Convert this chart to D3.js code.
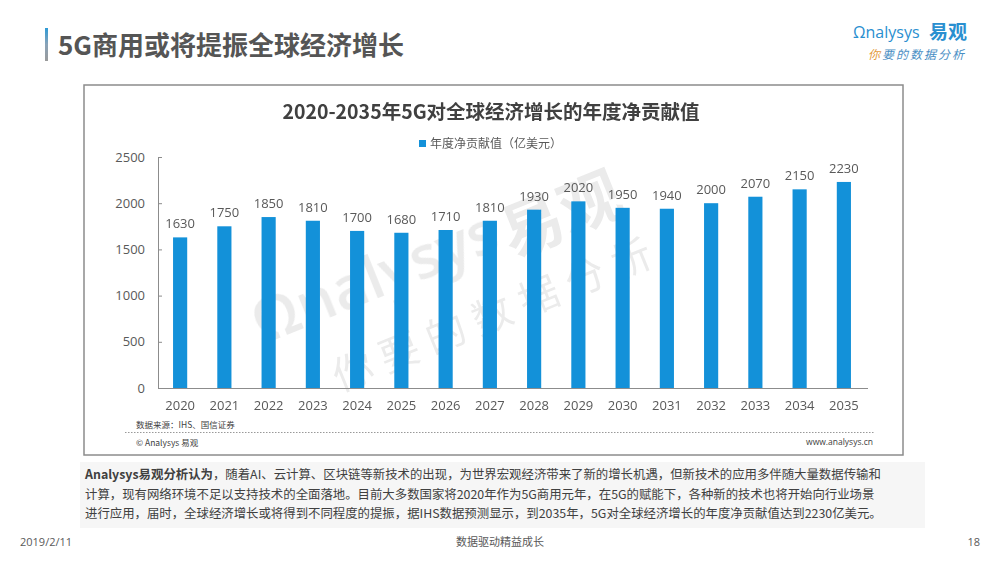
<!DOCTYPE html>
<html>
<head>
<meta charset="utf-8">
<script src="https://cdn.jsdelivr.net/npm/d3@7"></script>
<style>
  body { margin: 0; background: #fff; }
  svg { display: block; font-family: "Open Sans", "Noto Sans CJK SC", sans-serif; }
</style>
</head>
<body>
<svg id="slide" width="1000" height="563"></svg>
<script>
// chart data
const years = ["2020", "2021", "2022", "2023", "2024", "2025", "2026", "2027",
  "2028", "2029", "2030", "2031", "2032", "2033", "2034", "2035"];
const netContribution = [1630, 1750, 1850, 1810, 1700, 1680, 1710, 1810,
  1930, 2020, 1950, 1940, 2000, 2070, 2150, 2230];
const yTicks = [0, 500, 1000, 1500, 2000, 2500];

const seriesName = "年度净贡献值（亿美元）";
const chartTitle = "2020-2035年5G对全球经济增长的年度净贡献值";
const pageTitle = "5G商用或将提振全球经济增长";
const summaryLines = [
  ["Analysys易观分析认为", "，随着AI、云计算、区块链等新技术的出现，为世界宏观经济带来了新的增长机遇，但新技术的应用多伴随大量数据传输和"],
  ["", "计算，现有网络环境不足以支持技术的全面落地。目前大多数国家将2020年作为5G商用元年，在5G的赋能下，各种新的技术也将开始向行业场景"],
  ["", "进行应用，届时，全球经济增长或将得到不同程度的提振，据IHS数据预测显示，到2035年，5G对全球经济增长的年度净贡献值达到2230亿美元。"]
];

const svg = d3.select("#slide");
const cjk = "'Noto Sans CJK SC', sans-serif";
const textGray = "#595959";
const barBlue = "#1391d9";

// ---------- page header ----------
const hdr = d3.create("svg:linearGradient").attr("id", "hdrbar").attr("x1", 0).attr("x2", 0).attr("y1", 0).attr("y2", 1);
svg.append("defs").append(() => hdr.node());
hdr.append("stop").attr("offset", "0%").attr("stop-color", "#2d9ad6");
hdr.append("stop").attr("offset", "50%").attr("stop-color", "#8aa3b8");
hdr.append("stop").attr("offset", "100%").attr("stop-color", "#9a9a9a");

svg.append("rect").attr("x", 45).attr("y", 28).attr("width", 3).attr("height", 33).attr("fill", "url(#hdrbar)");
svg.append("text").attr("x", 58).attr("y", 55)
  .style("font-family", cjk).style("font-weight", 700).style("font-size", "26px")
  .attr("fill", "#555").text(pageTitle);

// logo (text only)
svg.append("text").attr("x", 853).attr("y", 38)
  .style("font-family", "'Open Sans', sans-serif").style("font-size", "16px")
  .attr("fill", "#2a8fd0").text("Ωnalysys");
svg.append("text").attr("x", 929).attr("y", 39)
  .style("font-family", cjk).style("font-weight", 700).style("font-size", "19px")
  .attr("fill", "#2a8fd0").text("易观");
const tag = svg.append("text").attr("x", 868).attr("y", 59)
  .style("font-family", cjk).style("font-size", "12px").style("font-style", "italic")
  .attr("letter-spacing", "2px");
tag.append("tspan").attr("fill", "#e39a3c").text("你");
tag.append("tspan").attr("fill", "#4a8ec4").text("要的数据分析");

// ---------- chart frame ----------
svg.append("rect").attr("x", 84).attr("y", 85).attr("width", 819).attr("height", 370)
  .attr("fill", "#fff").attr("stroke", "#8c8c8c").attr("stroke-width", 1.5);

// watermark
const wm = svg.append("g").attr("opacity", 0.12).attr("fill", "#555");
wm.append("text").attr("transform", "translate(262,345) rotate(-22)")
  .style("font-family", "'Open Sans', sans-serif").style("font-weight", 600).style("font-size", "60px")
  .text("Ωnalysys");
wm.append("text").attr("transform", "translate(512,258) rotate(-22)")
  .style("font-family", cjk).style("font-weight", 700).style("font-size", "62px")
  .text("易观");
wm.append("text").attr("transform", "translate(340,392) rotate(-22)")
  .style("font-family", cjk).style("font-size", "40px").attr("letter-spacing", "10px")
  .text("你要的数据分析");

svg.append("text").attr("x", 491).attr("y", 119).attr("text-anchor", "middle")
  .style("font-family", cjk).style("font-weight", 700).style("font-size", "19.5px")
  .attr("fill", "#404040").text(chartTitle);

// legend
svg.append("rect").attr("x", 419).attr("y", 140).attr("width", 7).attr("height", 7).attr("fill", barBlue);
svg.append("text").attr("x", 430).attr("y", 148)
  .style("font-family", cjk).style("font-size", "12px").attr("fill", textGray).text(seriesName);

// ---------- plot ----------
const x = d3.scaleBand().domain(years).range([158, 866]).paddingInner(0.68).paddingOuter(0.34);
const y = d3.scaleLinear().domain([0, 2500]).range([388, 157]);

const yAxis = svg.append("g").attr("transform", "translate(158,0)")
  .call(d3.axisRight(y).tickValues(yTicks).tickSize(4).tickFormat(d3.format("d")));
yAxis.select(".domain").attr("stroke", "#8c8c8c");
yAxis.selectAll(".tick line").attr("stroke", "#8c8c8c");
yAxis.selectAll(".tick text").attr("x", -13).attr("text-anchor", "end")
  .style("font-size", "13px").attr("fill", textGray).style("font-family", "'Open Sans', sans-serif");

svg.append("g").selectAll("rect").data(years).join("rect")
  .attr("x", d => x(d))
  .attr("y", (d, i) => y(netContribution[i]))
  .attr("width", x.bandwidth())
  .attr("height", (d, i) => y(0) - y(netContribution[i]))
  .attr("fill", barBlue);

svg.append("g").selectAll("text").data(years).join("text")
  .attr("x", d => x(d) + x.bandwidth() / 2)
  .attr("y", (d, i) => y(netContribution[i]) - 9)
  .attr("text-anchor", "middle")
  .style("font-size", "13px").attr("fill", textGray)
  .text((d, i) => netContribution[i]);

const xAxis = svg.append("g").attr("transform", "translate(0,388)")
  .call(d3.axisBottom(x).tickSize(0).tickPadding(13));
xAxis.select(".domain").attr("stroke", "#8c8c8c").attr("d", "M158,0.5H868");
xAxis.selectAll(".tick text").style("font-size", "13px").attr("fill", textGray)
  .style("font-family", "'Open Sans', sans-serif");

// source + footer inside frame
svg.append("text").attr("x", 136).attr("y", 428)
  .style("font-family", cjk).style("font-size", "8.5px").attr("fill", "#404040").text("数据来源：IHS、国信证券");
svg.append("line").attr("x1", 125).attr("x2", 874).attr("y1", 432.5).attr("y2", 432.5)
  .attr("stroke", "#999").attr("stroke-dasharray", "1.5,1.5");
svg.append("text").attr("x", 136).attr("y", 446)
  .style("font-family", cjk).style("font-size", "8.5px").attr("fill", "#404040").text("© Analysys 易观");
svg.append("text").attr("x", 873).attr("y", 445).attr("text-anchor", "end")
  .style("font-size", "8.5px").attr("fill", "#404040").text("www.analysys.cn");

// ---------- summary box ----------
svg.append("rect").attr("x", 80).attr("y", 462).attr("width", 845).attr("height", 66).attr("fill", "#f6f6f6");
summaryLines.forEach((ln, i) => {
  const t = svg.append("text").attr("x", 85).attr("y", 479 + i * 19.5)
    .style("font-family", cjk).style("font-size", "12.4px").attr("fill", "#404040");
  if (ln[0]) t.append("tspan").style("font-weight", 700).text(ln[0]);
  t.append("tspan").text(ln[1]);
});

// ---------- page footer ----------
svg.append("text").attr("x", 20).attr("y", 546)
  .style("font-size", "11px").attr("fill", textGray).text("2019/2/11");
svg.append("text").attr("x", 500).attr("y", 546).attr("text-anchor", "middle")
  .style("font-family", cjk).style("font-size", "11px").attr("fill", textGray).text("数据驱动精益成长");
svg.append("text").attr("x", 980).attr("y", 546).attr("text-anchor", "end")
  .style("font-size", "11px").attr("fill", textGray).text("18");
</script>
</body>
</html>
